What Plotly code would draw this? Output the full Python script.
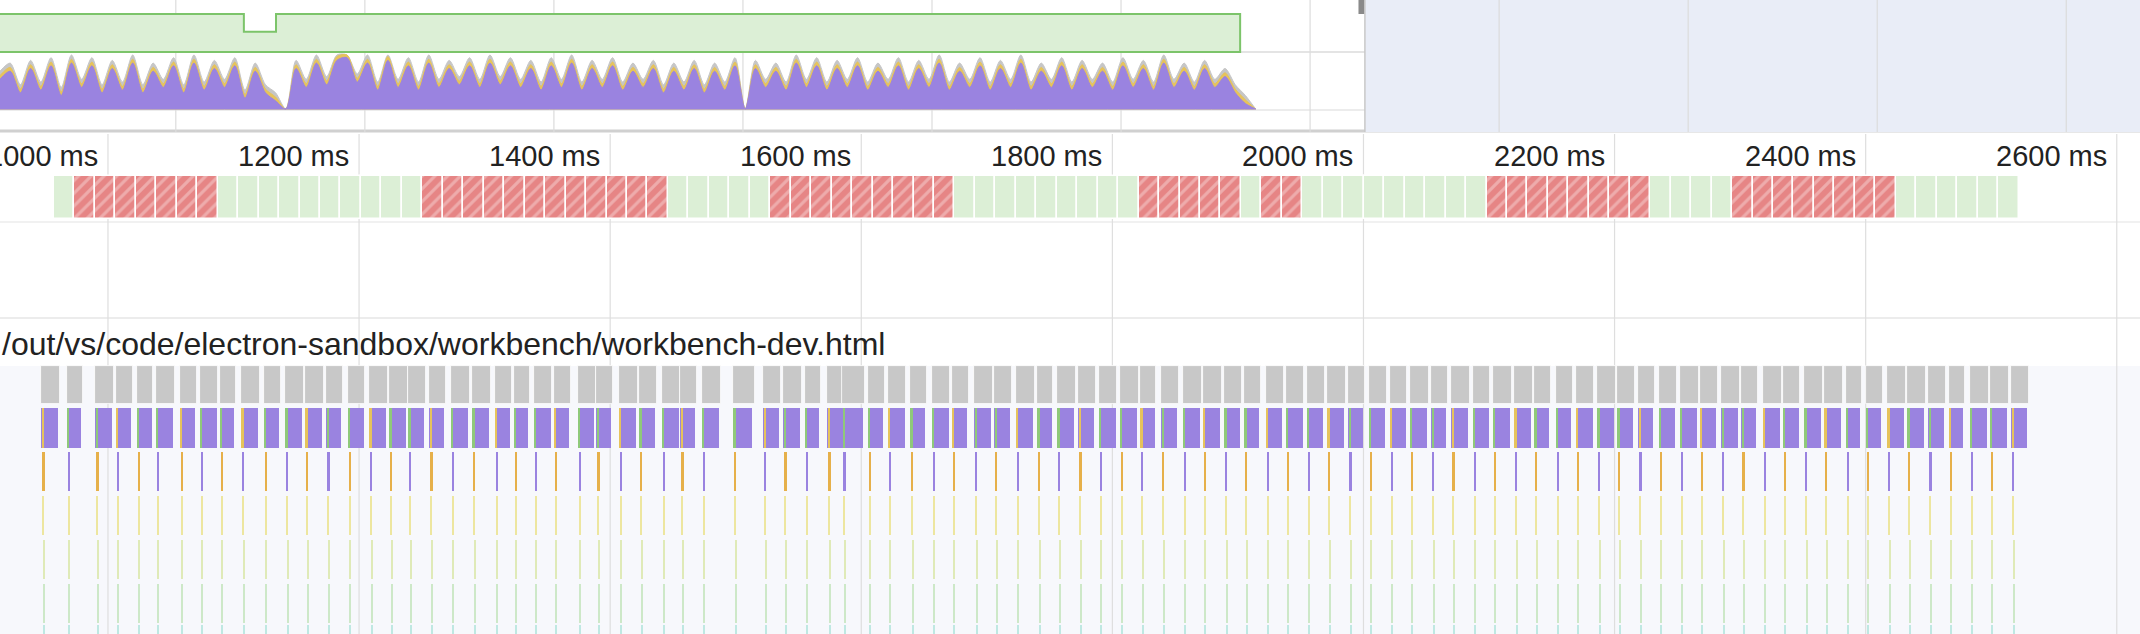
import plotly.graph_objects as go

# ---------------- data ----------------
tick_ms = [1000, 1200, 1400, 1600, 1800, 2000, 2200, 2400, 2600]
tick_labels = ["1000 ms", "1200 ms", "1400 ms", "1600 ms", "1800 ms", "2000 ms", "2200 ms", "2400 ms", "2600 ms"]

# overview (top strip) time scale, ms
ov_grid = [465, 965, 1465, 1965, 2465, 2965, 3465, 3965, 4465, 4965, 5465]
ov_selection_start = 3610
cpu_step = 27
cpu_purple = [0.55,0.7,0.3,0.75,0.35,0.8,0.25,0.85,0.4,0.8,0.3,0.75,0.35,0.85,0.3,0.7,0.4,0.8,0.3,0.85,0.35,0.75,0.4,0.8,0.2,0.7,0.3,0.15,
              0.0,
              0.75,0.4,0.85,0.45,0.9,0.95,0.5,0.85,0.35,0.9,0.4,0.8,0.35,0.85,0.4,0.75,0.45,0.8,0.4,0.85,0.45,0.8,0.4,0.75,0.35,0.8,0.4,0.85,0.35,0.75,0.4,0.8,0.35,0.7,0.4,0.75,0.3,0.7,0.35,0.75,0.3,0.7,0.35,0.8,
              0.0,
              0.75,0.4,0.7,0.35,0.85,0.4,0.8,0.35,0.75,0.4,0.8,0.35,0.7,0.4,0.8,0.35,0.75,0.4,0.85,0.35,0.7,0.4,0.8,0.35,0.75,0.4,0.85,0.35,0.7,0.4,0.8,0.35,0.75,0.4,0.7,0.35,0.8,0.4,0.75,0.35,0.85,0.4,0.7,0.35,0.75,0.4,0.6,0.3,0.1,0.0]
cpu_yellow_extra = 0.07
cpu_gray_extra = 0.15
fps_t = [0, 645, 730, 3280]
fps_level = [1.0, 0.53, 1.0, 1.0]

# frames track
frame_first = 957
frame_ms = 16.3
frame_count = 96
dropped_ranges = [(974, 1088), (1257, 1439), (1524, 1671), (1823, 1905), (1922, 1954), (2090, 2222), (2290, 2421)]

# main-thread tasks
task_start = [947,967,990,1006,1023,1038,1057,1073,1089,1106,1124,1141,1157,1174,1191,1208,1224,1239,1256,1273,
              1290,1308,1323,1339,1355,1374,1389,1407,1423,1441,1456,1473,1498,1522,1538,1555,1573,1585,1605,1621,
              1639,1656,1672,1690,1706,1723,1740,1756,1773,1789,1806,1822,1839,1856,1872,1889,1905,1922,1938,1955,
              1971,1988,2004,2021,2037,2054,2070,2087,2103,2120,2136,2153,2169,2186,2202,2219,2235,2252,2268,2285,
              2301,2318,2334,2351,2367,2384,2400,2417,2433,2450,2466,2483,2499,2516]
task_dur = [15,13,15,14,13,15,14,15,13,15,14,15,15,13,14,15,15,14,13,15,
            15,14,13,15,14,15,13,15,14,15,13,15,17,14,15,13,15,18,14,15,
            13,15,14,15,14,15,13,15,14,15,15,13,14,15,15,14,13,15,15,14,
            15,13,15,14,15,13,15,14,15,15,13,14,15,15,14,13,15,15,14,15,
            13,15,14,15,15,13,14,15,15,14,13,15,15,14]
header_text = "/out/vs/code/electron-sandbox/workbench/workbench-dev.html"

# ---------------- figure ----------------
W, H = 2140, 634
X0 = 914.0
PX_PER_MS = 1.2555
XR = [X0, X0 + W / PX_PER_MS]
OV_R = [0, 5660]

fig = go.Figure()
shapes = []
annotations = []

shapes.append(dict(type="rect", xref="paper", yref="y", x0=0, x1=1, y0=366, y1=634, fillcolor="#f7f8fc", line_width=0, layer="below"))
shapes.append(dict(type="rect", xref="x2", yref="y", x0=ov_selection_start, x1=OV_R[1], y0=0, y1=132, fillcolor="#e9edf7", line_width=0, layer="below"))
for g in ov_grid:
    shapes.append(dict(type="line", xref="x2", yref="y", x0=g, x1=g, y0=0, y1=132, line=dict(color="#dcdcdc", width=1.2), layer="below"))
for t in tick_ms:
    shapes.append(dict(type="line", xref="x", yref="y", x0=t, x1=t, y0=134, y1=634, line=dict(color="#dedede", width=1.2), layer="below"))
for yy, c, w in [(52, "#e4e4e4", 2), (110, "#e6e6e6", 1.5), (131, "#d0d0d0", 3), (222, "#ececec", 1.5), (318, "#e6e6e6", 1.5)]:
    shapes.append(dict(type="line", xref="paper", yref="y", x0=0, x1=1, y0=yy, y1=yy, line=dict(color=c, width=w), layer="below"))
shapes.append(dict(type="line", xref="x2", yref="y", x0=ov_selection_start, x1=ov_selection_start, y0=0, y1=132, line=dict(color="#c8c8c8", width=1.5)))
shapes.append(dict(type="rect", xref="x2", yref="y", x0=ov_selection_start - 17, x1=ov_selection_start - 2, y0=0, y1=14, fillcolor="#8a8a8a", line_width=0))

# FPS overview
fx, fy = [], []
for i in range(len(fps_t) - 1):
    fx += [fps_t[i], fps_t[i + 1]]
    fy += [52 - 38 * fps_level[i]] * 2
fig.add_trace(go.Scatter(x=fx + [fps_t[-1], 0], y=fy + [52, 52], xaxis="x2", fill="toself",
                         fillcolor="#dcefd6", line=dict(color="#7cc46a", width=2), mode="lines", hoverinfo="skip"))

# CPU overview
cpu_t = [i * cpu_step for i in range(len(cpu_purple))]
def band(vals, extra, color):
    ys = [109 - 54 * min(1.0, v + (extra if v > 0 else 0)) for v in vals]
    fig.add_trace(go.Scatter(x=cpu_t + [cpu_t[-1], 0], y=ys + [109, 109], xaxis="x2", fill="toself",
                             fillcolor=color, line=dict(color=color, width=1, shape="spline", smoothing=0.8),
                             mode="lines", hoverinfo="skip"))
band(cpu_purple, cpu_gray_extra, "#c6c6c6")
band(cpu_purple, cpu_yellow_extra, "#e6c35c")
band(cpu_purple, 0, "#9a83e0")

# frames
f_starts = [frame_first + i * frame_ms for i in range(frame_count)]
def is_dropped(s):
    m = s + frame_ms / 2
    return any(a <= m <= b for a, b in dropped_ranges)
ok = [s for s in f_starts if not is_dropped(s)]
bad = [s for s in f_starts if is_dropped(s)]
fig.add_trace(go.Bar(orientation="h", base=ok, x=[frame_ms] * len(ok), y=[197.5] * len(ok), width=43,
                     marker=dict(color="#dcefd6", line=dict(color="white", width=1.5)), hoverinfo="skip"))
fig.add_trace(go.Bar(orientation="h", base=bad, x=[frame_ms] * len(bad), y=[197.5] * len(bad), width=43,
                     marker=dict(color="#e88b8b", line=dict(color="white", width=1.5),
                                 pattern=dict(shape="/", fgcolor="#f6d4d4", bgcolor="#e68585", size=9, solidity=0.35)),
                     hoverinfo="skip"))

# main thread rows
def row(starts, durs, yc, h, colors, lw=0):
    fig.add_trace(go.Bar(orientation="h", base=starts, x=durs, y=[yc] * len(starts), width=h,
                         marker=dict(color=colors, line=dict(color="white", width=lw)), hoverinfo="skip"))
row(task_start, task_dur, 385, 38, "#c8c8c8", 0.8)
row(task_start, [d * 0.9 for d in task_dur], 428, 40, "#9a83e0")
row([s + 0.6 for s in task_start], [1.4] * len(task_start), 428, 40, ["#e6c35c" if i % 3 == 0 else "#8fc97a" for i in range(len(task_start))])
row([s + 1.2 for s in task_start], [1.3] * len(task_start), 471, 39, ["#9a83e0" if i % 2 else "#e6b04a" for i in range(len(task_start))])
row([s + 1.2 for s in task_start], [1.0] * len(task_start), 515, 39, "#ede6a0")
row([s + 1.6 for s in task_start], [1.0] * len(task_start), 559, 39, "#dfeab8")
row([s + 1.6 for s in task_start], [1.0] * len(task_start), 603, 39, "#cde8c8")
row([s + 1.6 for s in task_start], [1.0] * len(task_start), 632, 14, "#bfe8e2")

for t, lab in zip(tick_ms, tick_labels):
    annotations.append(dict(x=t, y=156, xref="x", yref="y", text=lab, showarrow=False, xanchor="right",
                            xshift=-8, font=dict(size=29, color="#222", family="Liberation Sans")))
annotations.append(dict(x=0, y=344, xref="paper", yref="y", text=header_text, showarrow=False, xanchor="left",
                        font=dict(size=32, color="#222", family="Liberation Sans")))

fig.update_layout(
    width=W, height=H, margin=dict(l=0, r=0, t=0, b=0), paper_bgcolor="white", plot_bgcolor="rgba(0,0,0,0)",
    showlegend=False, barmode="overlay", bargap=0,
    xaxis=dict(range=XR, visible=False, fixedrange=True),
    xaxis2=dict(range=OV_R, visible=False, overlaying="x", fixedrange=True),
    yaxis=dict(range=[H, 0], visible=False, fixedrange=True),
    shapes=shapes, annotations=annotations,
)
fig.write_html("out.html", config={"displayModeBar": False},
               post_script="document.body.style.margin='0';document.body.style.overflow='hidden';")
